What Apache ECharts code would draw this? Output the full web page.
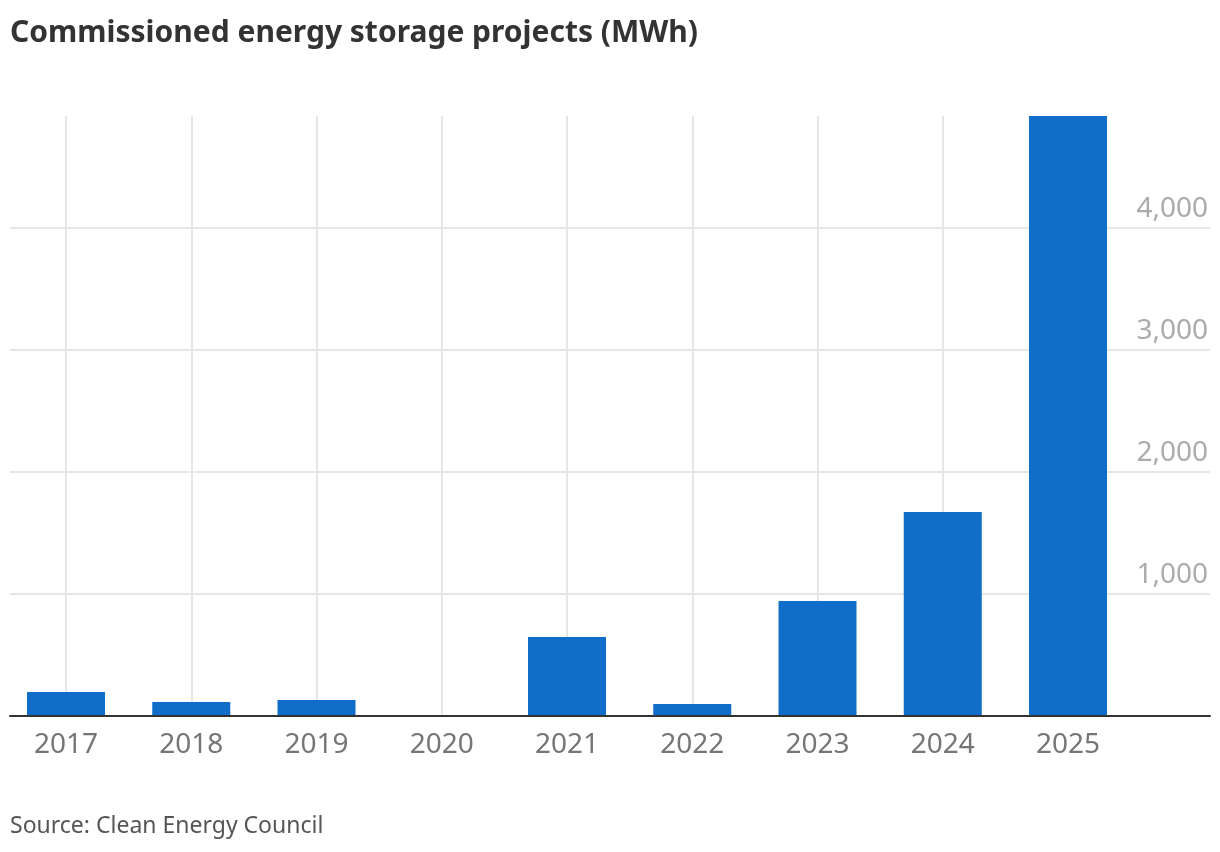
<!DOCTYPE html>
<html>
<head>
<meta charset="utf-8">
<script src="https://cdn.jsdelivr.net/npm/echarts@6/dist/echarts.min.js"></script>
<style>
    html, body { margin: 0; padding: 0; background: #fff; }
    #myCharts { width: 1220px; height: 852px; }
</style>
</head>
<body>
<div id="myCharts"></div>
<script>
// 数据
const years = ["2017", "2018", "2019", "2020", "2021", "2022", "2023", "2024", "2025"];
const mwh = [197, 115, 131, 0, 647, 98, 943, 1672, 4918];
const yTicks = [1000, 2000, 3000, 4000]; // 右侧刻度

const yMax = Math.max(...mwh);
const font = "'Noto Sans', sans-serif";
const gridLine = { color: "#e6e6e6", width: 2 };

let myCharts = echarts.init(document.getElementById("myCharts"));
let options = {
    animation: false,
    title: [
        {
            text: "Commissioned energy storage projects (MWh)",
            left: 10,
            top: 18,
            padding: 0,
            textStyle: { fontFamily: "'Liberation Sans Narrow', 'Noto Sans', sans-serif", fontSize: 30, fontWeight: "bold", color: "#333" }
        },
        {
            text: "Source: Clean Energy Council",
            left: 10,
            top: 815,
            padding: 0,
            textStyle: { fontFamily: font, fontSize: 23, fontWeight: "normal", color: "#555" }
        }
    ],
    grid: [
        // 整宽: 横向网格线 + 底部轴线
        { left: 10, right: 10, top: 116, bottom: 136 },
        // 柱子
        { left: 66, right: 152, top: 116, bottom: 136 }
    ],
    xAxis: [
        {
            gridIndex: 0,
            type: "value",
            min: 0,
            max: 1,
            z: 5,
            axisLine: { show: true, onZero: false, lineStyle: { color: "#333", width: 2 } },
            axisTick: { show: false },
            axisLabel: { show: false },
            splitLine: { show: false }
        },
        {
            gridIndex: 1,
            type: "category",
            data: years,
            boundaryGap: false,
            axisLine: { show: false },
            axisTick: { show: false },
            axisLabel: { interval: 0, color: "#767676", fontSize: 28, fontFamily: font, margin: 15 },
            splitLine: { show: true, interval: 0, lineStyle: gridLine }
        }
    ],
    yAxis: [
        {
            gridIndex: 0,
            type: "value",
            min: 0,
            max: yMax,
            interval: 1000,
            position: "right",
            axisLine: { show: false },
            axisTick: { show: false },
            splitLine: { show: true, showMinLine: false, showMaxLine: false, lineStyle: gridLine },
            axisLabel: {
                inside: true,
                showMinLabel: false,
                showMaxLabel: false,
                margin: 2,
                verticalAlign: "bottom",
                padding: [0, 0, 5, 0],
                color: "#ababab",
                fontSize: 28,
                fontFamily: font,
                formatter: function (v) {
                    return yTicks.indexOf(v) > -1 ? v.toLocaleString("en-US") : "";
                }
            }
        },
        {
            gridIndex: 1,
            type: "value",
            min: 0,
            max: yMax,
            show: false
        }
    ],
    series: [
        {
            name: "MWh",
            type: "bar",
            xAxisIndex: 1,
            yAxisIndex: 1,
            barWidth: 78,
            clip: false,
            itemStyle: { color: "#106dc9" },
            data: mwh
        }
    ]
};
myCharts.setOption(options);
</script>
</body>
</html>
